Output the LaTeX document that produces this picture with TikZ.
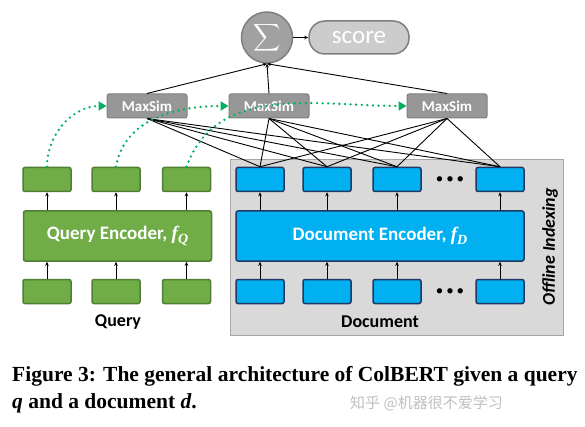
\documentclass[tikz,border=0pt]{standalone}
\usepackage{fontspec}
\setmainfont{Carlito}
\newfontfamily\capfont{Liberation Serif}
\newfontfamily\cjk{Noto Sans CJK SC}
\usetikzlibrary{arrows.meta,positioning}

\definecolor{qfill}{HTML}{70AD47}
\definecolor{qdraw}{HTML}{507E32}
\definecolor{dfill}{HTML}{00B0F0}
\definecolor{ddraw}{HTML}{1F3864}
\definecolor{msfill}{HTML}{979797}
\definecolor{msdraw}{HTML}{7F7F7F}
\definecolor{bgfill}{HTML}{D9D9D9}
\definecolor{bgdraw}{HTML}{A6A6A6}
\definecolor{matchgreen}{HTML}{00B060}

\newcommand{\encfn}[1]{{\capfont\itshape f}\raisebox{-4pt}{\capfont\itshape\fontsize{14}{14}\selectfont #1}}

\begin{document}
\begin{tikzpicture}[x=1pt,y=-1pt,node distance=15pt]
\tikzstyle{qtok}=[draw=qdraw,fill=qfill,line width=1.5pt,rounded corners=2pt,minimum width=48pt,minimum height=24pt,inner sep=0pt]
\tikzstyle{dtok}=[qtok,draw=ddraw,fill=dfill]
\tikzstyle{qenc}=[qtok,minimum height=50pt,text=white,font=\bfseries\fontsize{19}{19}\selectfont]
\tikzstyle{denc}=[dtok,minimum height=50pt,text=white,font=\bfseries\fontsize{19}{19}\selectfont]
\tikzstyle{maxsim}=[draw=msdraw,fill=msfill,line width=1pt,rounded corners=2pt,minimum width=80pt,minimum height=24pt,inner sep=0pt,text=white,font=\bfseries\fontsize{15}{15}\selectfont]
\tikzstyle{up}=[-{Stealth[length=4pt,width=3.5pt]},line width=0.9pt]
\tikzstyle{pair}=[line width=0.9pt]
\tikzstyle{match}=[matchgreen,line width=2.6pt,line cap=round,dash pattern=on 0pt off 5.6pt,-{Triangle[length=8pt,width=9pt]}]
\tikzstyle{label}=[font=\bfseries\fontsize{18}{18}\selectfont]
\tikzstyle{dots}=[font=\fontsize{15}{15}\selectfont]
\tikzstyle{caption}=[anchor=west,inner sep=0pt,font=\capfont\bfseries\fontsize{21.5}{21.5}\selectfont]

\useasboundingbox (0,0) rectangle (585,427);

% offline indexing area
\node[draw=bgdraw,fill=bgfill,line width=1pt,minimum width=333pt,minimum height=175pt,inner sep=0pt] (offline) at (396.7,247.5) {};
\node[label,font=\bfseries\itshape\fontsize{18}{18}\selectfont,rotate=90] (offlbl) at (550,247) {Offline Indexing};

% query side
\node[qenc,minimum width=188pt] (qenc) at (117.5,236) {Query Encoder, \encfn{Q}};
\foreach \i/\x in {1/47,2/116,3/186.5} {
  \node[qtok] (qt\i) at (\x,179.5) {};
  \node[qtok] (qb\i) at (\x,291.5) {};
  \draw[up] (qb\i.north) -- (qb\i.north |- qenc.south);
  \draw[up] (qt\i.south |- qenc.north) -- (qt\i.south);
}
\node[label] (qlbl) at (118,322) {Query};

% document side
\node[denc,minimum width=288pt] (denc) at (380,236) {Document Encoder, \encfn{D}};
\foreach \i/\x in {1/260,2/327,3/397,4/500} {
  \node[dtok] (dt\i) at (\x,179.5) {};
  \node[dtok] (db\i) at (\x,291.5) {};
  \draw[up] (db\i.north) -- (db\i.north |- denc.south);
  \draw[up] (dt\i.south |- denc.north) -- (dt\i.south);
}
\node[dots] (dtdots) at (450,180) {\textbullet\hspace{3pt}\textbullet\hspace{3pt}\textbullet};
\node[dots] (dbdots) at (450,292) {\textbullet\hspace{3pt}\textbullet\hspace{3pt}\textbullet};
\node[label] (dlbl) at (380,321.5) {Document};

% MaxSim and score
\node[maxsim] (ms1) at (147,106) {MaxSim};
\node[maxsim] (ms2) at (269,106) {MaxSim};
\node[maxsim] (ms3) at (447,106) {MaxSim};
\node[circle,draw=msdraw,fill=msfill!90!white,line width=1.5pt,minimum size=51pt,inner sep=0pt,text=white] (sum) at (267,37.5) {\scalebox{1.9}{$\displaystyle\sum$}};
\node[draw=msdraw,fill=bgfill!85!gray,line width=1.5pt,rounded corners=16pt,minimum width=100pt,minimum height=33pt,text=white,font=\fontsize{25}{25}\selectfont] (score) [right=of sum] {score};
\draw[up] (sum) -- (score);

\foreach \m in {1,2,3} {
  \draw[up] (ms\m.north) -- (sum.south);
  \foreach \d in {1,2,3,4}
    \draw[pair] (dt\d.north) -- (ms\m.south);
}

% query tokens matched against document
\draw[match] (qt1.north) to[out=90,in=180] (ms1.west);
\draw[match] (qt2.north) to[out=80,in=180] (ms2.west);
\draw[match] (qt3.north) to[out=70,in=180] (ms3.west);

% caption
\node[caption] (cap1) at (12,376) {Figure 3: The general architecture of ColBERT given a query};
\node[caption] (cap2) at (12,403) {\textit{q} and a document \textit{d}.};
\node[anchor=west,inner sep=0pt,text=black!25,font=\cjk\fontsize{15}{15}\selectfont] (mark) at (350,403) {知乎 @机器很不爱学习};
\end{tikzpicture}
\end{document}
